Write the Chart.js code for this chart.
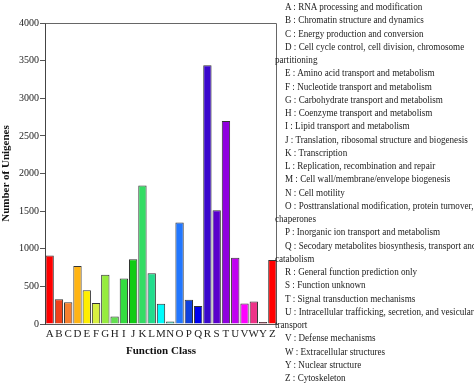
<!DOCTYPE html>
<html><head><meta charset="utf-8">
<script src="https://cdn.jsdelivr.net/npm/chart.js@4"></script>
<style>
html,body{margin:0;padding:0;background:#fff;}
#wrap{position:relative;width:474px;height:383px;overflow:hidden;}
#c{position:absolute;left:0;top:0;}
#legend{position:absolute;left:0;top:0;width:474px;height:383px;font-family:"Liberation Serif","Times New Roman",serif;font-size:10px;color:#222;}
#legend div{position:absolute;white-space:nowrap;line-height:12px;transform-origin:0 50%;transform:scaleX(0.91);}
</style></head><body>
<div id="wrap"><canvas id="c" width="474" height="383"></canvas><div id="legend"></div></div>
<script>
const categories = ["A","B","C","D","E","F","G","H","I","J","K","L","M","N","O","P","Q","R","S","T","U","V","W","Y","Z"];
const unigeneCounts = [910, 330, 290, 770, 450, 280, 655, 100, 605, 860, 1840, 675, 268, 33, 1348, 322, 240, 3440, 1510, 2698, 880, 272, 300, 26, 850];
const barColors = ["#ff0000","#f0401a","#f58030","#ffb414","#ffee00","#d8f040","#96ec3e","#62e050","#34dc40","#10cc14","#34dc64","#22dc8c","#00fcfc","#22ccb0","#2277ff","#1040dd","#0000f0","#3a08cc","#5a00cc","#9000e0","#c000f0","#ff00ff","#ee3388","#880022","#ff0000"];
const yTickStep = 500;
const yMax = 4000;
const legendLines = [
  ["A : RNA processing and modification", 0],
  ["B : Chromatin structure and dynamics", 0],
  ["C : Energy production and conversion", 0],
  ["D : Cell cycle control, cell division, chromosome", 0],
  ["partitioning", 1],
  ["E : Amino acid transport and metabolism", 0],
  ["F : Nucleotide transport and metabolism", 0],
  ["G : Carbohydrate transport and metabolism", 0],
  ["H : Coenzyme transport and metabolism", 0],
  ["I  : Lipid transport and metabolism", 0],
  ["J : Translation, ribosomal structure and biogenesis", 0],
  ["K : Transcription", 0],
  ["L : Replication, recombination and repair", 0],
  ["M : Cell wall/membrane/envelope biogenesis", 0],
  ["N : Cell motility", 0],
  ["O : Posttranslational modification, protein turnover,", 0],
  ["chaperones", 1],
  ["P : Inorganic ion transport and metabolism", 0],
  ["Q : Secodary metabolites biosynthesis, transport and", 0],
  ["catabolism", 1],
  ["R : General function prediction only", 0],
  ["S : Function unknown", 0],
  ["T : Signal transduction mechanisms", 0],
  ["U : Intracellular trafficking, secretion, and vesicular", 0],
  ["transport", 1],
  ["V : Defense mechanisms", 0],
  ["W : Extracellular structures", 0],
  ["Y : Nuclear structure", 0],
  ["Z : Cytoskeleton", 0]
];

const leg = document.getElementById('legend');
legendLines.forEach((l, i) => {
  const d = document.createElement('div');
  d.textContent = l[0];
  d.style.left = (l[1] ? 275 : 285) + 'px';
  d.style.top = (1 + i * 13.25) + 'px';
  leg.appendChild(d);
});

const serif = '"Liberation Serif","Times New Roman",serif';

const framePlugin = {
  id: 'frame',
  beforeDatasetsDraw(chart) {
    const a = chart.chartArea, ctx = chart.ctx;
    ctx.save();
    ctx.strokeStyle = '#666';
    ctx.lineWidth = 1;
    ctx.beginPath();
    ctx.moveTo(Math.round(a.left) + 0.5, Math.round(a.top) + 0.5);
    ctx.lineTo(Math.round(a.right) - 0.5, Math.round(a.top) + 0.5);
    ctx.lineTo(Math.round(a.right) - 0.5, Math.round(a.bottom));
    ctx.stroke();
    ctx.restore();
  }
};

new Chart(document.getElementById('c'), {
  type: 'bar',
  data: {
    labels: categories,
    datasets: [{
      data: unigeneCounts,
      backgroundColor: barColors,
      borderColor: '#333',
      borderWidth: 1,
      barPercentage: 0.9,
      categoryPercentage: 1.0
    }]
  },
  plugins: [framePlugin],
  options: {
    responsive: false,
    animation: false,
    devicePixelRatio: 1,
    layout: { padding: { top: 23, right: 197, left: 0, bottom: 0 } },
    plugins: { legend: { display: false }, tooltip: { enabled: false } },
    scales: {
      x: {
        grid: { display: false, drawTicks: false },
        border: { display: true, color: '#555' },
        ticks: { color: '#222', font: { family: serif, size: 11 }, padding: 4, maxRotation: 0, autoSkip: false },
        title: { display: true, text: 'Function Class', color: '#111', font: { family: serif, size: 11, weight: 'bold' }, padding: { top: 25, bottom: 25 } },
        afterFit(s) { s.height = 59; }
      },
      y: {
        min: 0, max: yMax,
        grid: { drawOnChartArea: false, drawTicks: true, tickLength: 5, color: '#555' },
        border: { display: true, color: '#444' },
        ticks: { stepSize: yTickStep, color: '#222', font: { family: serif, size: 10 }, padding: 1, callback: (v) => String(v) },
        title: { display: true, text: 'Number of Unigenes', color: '#111', font: { family: serif, size: 11, weight: 'bold' }, padding: { top: 0, bottom: 0 } },
        afterFit(s) { s.width = 45; }
      }
    }
  }
});
</script>
</body></html>
